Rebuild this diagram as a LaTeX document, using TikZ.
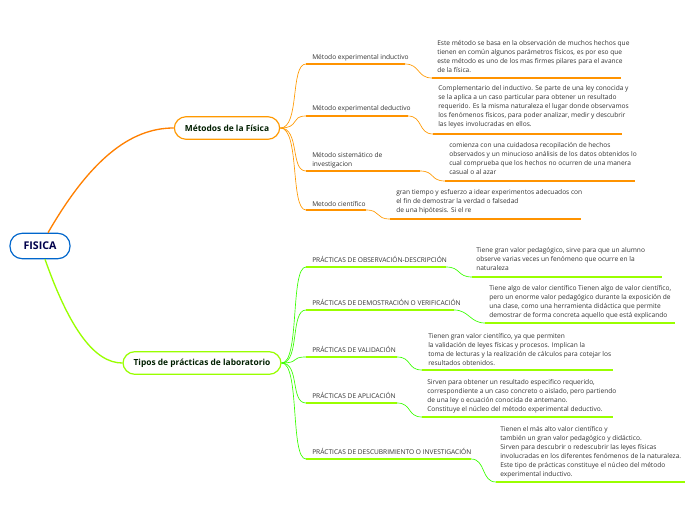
\documentclass[tikz,border=0pt]{standalone}
\usepackage{fontspec}
\setmainfont{Open Sans}
\usetikzlibrary{calc}
\begin{document}
\begin{tikzpicture}[x=0.75pt,y=-0.75pt,
  txt/.style={anchor=north west,inner sep=0pt,align=left,font=\fontsize{4.95}{6.75}\selectfont,text=black!80},
  lab/.style={anchor=south west,inner sep=0pt,align=left,font=\fontsize{4.95}{6.75}\selectfont,text=black!80},
  ob/.style={draw=orange!80!yellow,line width=0.5pt},
  obt/.style={draw=orange!85!yellow,line width=1.2pt},
  gb/.style={draw=green!70!lime,line width=0.5pt},
  gbt/.style={draw=lime!80!green,line width=1.2pt},
  main/.style={rounded corners=9pt,line width=0.9pt,font=\bfseries\fontsize{6.3}{8}\selectfont,text=black!70!green!40!black,minimum height=17pt,inner xsep=8pt}]
\useasboundingbox (0,0) rectangle (696,520);
\fill[white] (0,0) rectangle (696,520);
% root
\node[main,draw=blue!50!cyan!80!black,fill=white,minimum width=45pt,minimum height=19pt,font=\bfseries\fontsize{8}{9}\selectfont,text=blue!30!black] (root) at (40,246) {FISICA};
\node[main,draw=orange!80!yellow] (met) at (227,128) {Métodos de la Física};
\node[main,draw=lime!80!green] (tip) at (202,363) {Tipos de prácticas de laboratorio};
\draw[draw=orange,line width=1pt] (root.north) ++(8,0) .. controls (90,160) and (130,128) .. (met.west);
\draw[draw=lime!80!green,line width=1pt] (root.south) ++(5,0) .. controls (70,330) and (95,363) .. (tip.west);
% orange children
\foreach \n/\y/\ux/\ex/\ey/\fx in {a/64/405/432/78/621,b/116/408/433/134/622,c/171/420/445/181/635,d/210/366/390/219/581}{
  \coordinate (s\n) at (306,\y);
  \coordinate (u\n) at (\ux,\y);
  \coordinate (e\n) at (\ex,\ey);
  \coordinate (f\n) at (\fx,\ey);
  \draw[ob] (met.east) .. controls (300,128) and (290,\y) .. (s\n);
  \draw[obt] (s\n) -- (u\n);
  \draw[ob] (u\n) .. controls ($(u\n)+(15,0)$) and ($(e\n)-(15,0)$) .. (e\n);
  \draw[obt] (e\n) -- (f\n);
}
\node[lab] (la) at (312,61) {Método experimental inductivo};
\node[lab] (lb) at (312,112) {Método experimental deductivo};
\node[lab] (lc) at (312,168) {Método sistemático de\\investigacion};
\node[lab] (ld) at (312,207) {Metodo científico};
\node[txt] (ta) at (437,40) {Este método se basa en la observación de muchos hechos que\\tienen en común algunos parámetros físicos, es por eso que\\este método es uno de los mas firmes pilares para el avance\\de la física.};
\node[txt] (tb) at (438,85) {Complementario del inductivo. Se parte de una ley conocida y\\se la aplica a un caso particular para obtener un resultado\\requerido. Es la misma naturaleza el lugar donde observamos\\los fenómenos físicos, para poder analizar, medir y descubrir\\las leyes involucradas en ellos.};
\node[txt] (tc) at (449,142) {comienza con una cuidadosa recopilación de hechos\\observados y un minucioso análisis de los datos obtenidos lo\\cual comprueba que los hechos no ocurren de una manera\\casual o al azar};
\node[txt] (td) at (396,189) {gran tiempo y esfuerzo a idear experimentos adecuados con\\el fin de demostrar la verdad o falsedad\\de una hipótesis. Si el re};
% green children
\foreach \n/\y/\ux/\ex/\ey/\fx in {a/267/446/472/277/662,b/310/454/485/323/675,c/357/397/422/370/613,d/403/397/422/417/613,e/459/471/496/482/685}{
  \coordinate (gs\n) at (306,\y);
  \coordinate (gu\n) at (\ux,\y);
  \coordinate (ge\n) at (\ex,\ey);
  \coordinate (gf\n) at (\fx,\ey);
  \draw[gb] (tip.east) .. controls (300,363) and (290,\y) .. (gs\n);
  \draw[gbt] (gs\n) -- (gu\n);
  \draw[gb] (gu\n) .. controls ($(gu\n)+(15,0)$) and ($(ge\n)-(15,0)$) .. (ge\n);
  \draw[gbt] (ge\n) -- (gf\n);
}
\node[lab] (ga) at (312,263) {PRÁCTICAS DE OBSERVACIÓN-DESCRIPCIÓN};
\node[lab] (gb) at (312,306) {PRÁCTICAS DE DEMOSTRACIÓN O VERIFICACIÓN};
\node[lab] (gc) at (312,353) {PRÁCTICAS DE VALIDACIÓN};
\node[lab] (gd) at (312,399) {PRÁCTICAS DE APLICACIÓN};
\node[lab] (ge) at (312,455) {PRÁCTICAS DE DESCUBRIMIENTO O INVESTIGACIÓN};
\node[txt] (gta) at (476,247) {Tiene gran valor pedagógico, sirve para que un alumno\\observe varias veces un fenómeno que ocurre en la\\naturaleza};
\node[txt] (gtb) at (489,285) {Tiene algo de valor científico Tienen algo de valor científico,\\pero un enorme valor pedagógico durante la exposición de\\una clase, como una herramienta didáctica que permite\\demostrar de forma concreta aquello que está explicando};
\node[txt] (gtc) at (428,333) {Tienen gran valor científico, ya que permiten\\la validación de leyes físicas y procesos. Implican la\\toma de lecturas y la realización de cálculos para cotejar los\\resultados obtenidos.};
\node[txt] (gtd) at (427,379) {Sirven para obtener un resultado especifico requerido,\\correspondiente a un caso concreto o aislado, pero partiendo\\de una ley o ecuación conocida de antemano.\\Constituye el núcleo del método experimental deductivo.};
\node[txt] (gte) at (500,426) {Tienen el más alto valor científico y\\también un gran valor pedagógico y didáctico.\\Sirven para descubrir o redescubrir las leyes físicas\\involucradas en los diferentes fenómenos de la naturaleza.\\Este tipo de prácticas constituye el núcleo del método\\experimental inductivo.};
\end{tikzpicture}
\end{document}
